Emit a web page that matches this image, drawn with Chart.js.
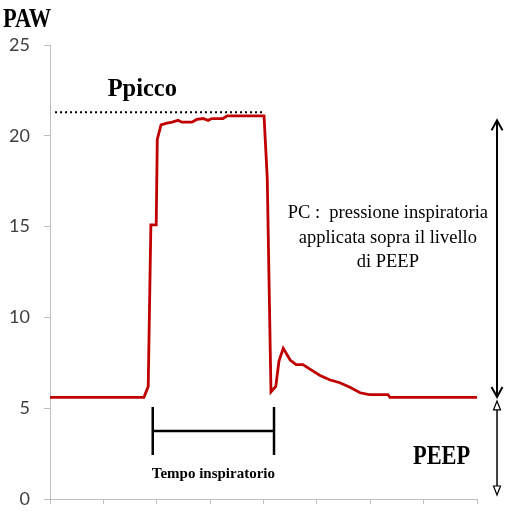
<!DOCTYPE html>
<html>
<head>
<meta charset="utf-8">
<script src="https://cdn.jsdelivr.net/npm/chart.js@4/dist/chart.umd.min.js"></script>
<style>
  html, body { margin: 0; padding: 0; background: #fff; }
  #wrap { width: 530px; height: 518px; }
</style>
</head>
<body>
<div id="wrap"><canvas id="pawChart"></canvas></div>
<script>
// Tempo (unità dell'asse x, 8 divisioni) e pressione PAW
const tempo = [0, 1.76, 1.84, 1.89, 1.99, 2.01, 2.08, 2.19, 2.29, 2.40, 2.47, 2.66, 2.75, 2.87, 2.96, 3.03, 3.24, 3.32, 4.01,
  4.07, 4.14, 4.23, 4.29, 4.37, 4.50, 4.61, 4.74, 4.87, 5.06, 5.25, 5.43, 5.62, 5.81, 5.98, 6.33, 6.37, 8.0];
const paw = [5.6, 5.6, 6.2, 15.1, 15.1, 19.8, 20.6, 20.7, 20.75, 20.85, 20.75, 20.75, 20.9, 20.95, 20.85, 20.95, 20.95, 21.1, 21.1,
  17.7, 5.9, 6.2, 7.6, 8.3, 7.65, 7.4, 7.4, 7.15, 6.8, 6.55, 6.4, 6.15, 5.85, 5.75, 5.75, 5.6, 5.6];

const yTicks = [0, 5, 10, 15, 20, 25];
const ppicco = 21.3;   // livello della linea tratteggiata
const inizioInsp = 1.925, fineInsp = 4.197;  // tempo inspiratorio

// Etichette di testo
const testoPC = ['PC :  pressione inspiratoria', 'applicata sopra il livello', 'di PEEP'];

// Plugin per disegnare le annotazioni
const annotazioni = {
  id: 'annotazioni',
  afterDatasetsDraw(chart) {
    const ctx = chart.ctx;
    const xs = chart.scales.x, ys = chart.scales.y;
    const X = v => xs.getPixelForValue(v);
    const Y = v => ys.getPixelForValue(v);

    function testo(t, x, y, font, sx, align) {
      ctx.save();
      ctx.font = font;
      ctx.fillStyle = '#000';
      ctx.textAlign = align || 'left';
      ctx.textBaseline = 'alphabetic';
      ctx.translate(x, y);
      ctx.scale(sx, 1);
      ctx.fillText(t, 0, 0);
      ctx.restore();
    }

    // linea punteggiata di Ppicco
    ctx.save();
    ctx.strokeStyle = '#000';
    ctx.lineWidth = 2;
    ctx.setLineDash([2, 3]);
    ctx.beginPath();
    ctx.moveTo(X(0.094), Y(ppicco));
    ctx.lineTo(X(4.03), Y(ppicco));
    ctx.stroke();
    ctx.restore();

    // titoli
    testo('PAW', X(-0.88), Y(26.0), 'bold 28px "Liberation Serif"', 0.8);
    testo('Ppicco', X(1.08), Y(22.17), 'bold 26px "Liberation Serif"', 0.94);
    testo('PEEP', X(6.8), Y(1.95), 'bold 28px "Liberation Serif"', 0.8);
    testo('Tempo inspiratorio', X((inizioInsp + fineInsp) / 2), Y(1.17), 'bold 15px "Liberation Serif"', 1, 'center');

    const righe = [15.47, 14.1, 12.78];
    testoPC.forEach((t, i) => testo(t, X(6.33), Y(righe[i]), '18.5px "Liberation Serif"', 1, 'center'));

    // parentesi del tempo inspiratorio
    ctx.save();
    ctx.strokeStyle = '#000';
    ctx.lineWidth = 2.5;
    ctx.beginPath();
    ctx.moveTo(X(inizioInsp), Y(5.07)); ctx.lineTo(X(inizioInsp), Y(2.42));
    ctx.moveTo(X(fineInsp), Y(5.07)); ctx.lineTo(X(fineInsp), Y(2.42));
    ctx.moveTo(X(inizioInsp), Y(3.74)); ctx.lineTo(X(fineInsp), Y(3.74));
    ctx.stroke();

    // freccia doppia PC
    const xa = X(8.375);
    const top = Y(20.85), bot = Y(5.62);
    ctx.lineWidth = 2;
    ctx.beginPath();
    ctx.moveTo(xa, top); ctx.lineTo(xa, bot);
    ctx.moveTo(xa - 5.5, top + 10); ctx.lineTo(xa, top); ctx.lineTo(xa + 5.5, top + 10);
    ctx.moveTo(xa - 5.5, bot - 10); ctx.lineTo(xa, bot); ctx.lineTo(xa + 5.5, bot - 10);
    ctx.stroke();

    // freccia doppia PEEP (punte vuote)
    const t2 = Y(5.4), b2 = Y(0.22);
    ctx.lineWidth = 1.5;
    ctx.beginPath();
    ctx.moveTo(xa, t2 + 9); ctx.lineTo(xa, b2 - 9);
    ctx.stroke();
    ctx.lineWidth = 1.2;
    ctx.fillStyle = '#fff';
    ctx.beginPath();
    ctx.moveTo(xa, t2); ctx.lineTo(xa - 3.5, t2 + 9); ctx.lineTo(xa + 3.5, t2 + 9); ctx.closePath();
    ctx.fill(); ctx.stroke();
    ctx.beginPath();
    ctx.moveTo(xa, b2); ctx.lineTo(xa - 3.5, b2 - 9); ctx.lineTo(xa + 3.5, b2 - 9); ctx.closePath();
    ctx.fill(); ctx.stroke();
    ctx.restore();
  }
};

const grafico = new Chart(document.getElementById('pawChart'), {
  type: 'line',
  data: {
    datasets: [{
      data: tempo.map((t, i) => ({ x: t, y: paw[i] })),
      borderColor: '#c00000',
      borderWidth: 2.8,
      pointRadius: 0,
      tension: 0,
      fill: false
    }]
  },
  options: {
    responsive: true,
    maintainAspectRatio: false,
    animation: false,
    layout: { padding: { top: 45, right: 53, bottom: 0, left: 0 } },
    plugins: { legend: { display: false }, tooltip: { enabled: false } },
    scales: {
      x: {
        type: 'linear',
        min: 0,
        max: 8,
        ticks: { display: false, stepSize: 1 },
        grid: { drawOnChartArea: false, drawTicks: true, tickLength: 5, color: '#bfbfbf' },
        border: { color: '#bfbfbf', width: 1 },
        afterFit: s => { s.height = 19; }
      },
      y: {
        min: 0,
        max: 25,
        afterBuildTicks: s => { s.ticks = yTicks.map(v => ({ value: v })); },
        ticks: { padding: 14, color: '#404040', font: { family: 'Lato', size: 18, lineHeight: 0.5 } },
        grid: { drawOnChartArea: false, drawTicks: true, tickLength: 6, color: '#bfbfbf' },
        border: { color: '#bfbfbf', width: 1 },
        afterFit: s => { s.width = 50; }
      }
    }
  },
  plugins: [annotazioni]
});
</script>
</body>
</html>
